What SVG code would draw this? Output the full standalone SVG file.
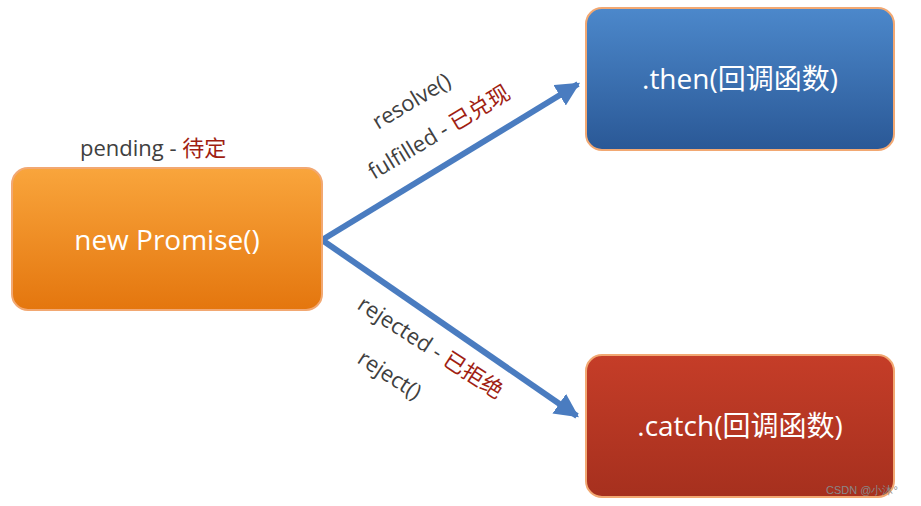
<svg xmlns="http://www.w3.org/2000/svg" width="921" height="506" viewBox="0 0 921 506">
<defs>
<linearGradient id="go" x1="0" y1="0" x2="0" y2="1"><stop offset="0" stop-color="#f9a53c"/><stop offset="1" stop-color="#e4760e"/></linearGradient>
<linearGradient id="gb" x1="0" y1="0" x2="0" y2="1"><stop offset="0" stop-color="#4c88cb"/><stop offset="1" stop-color="#2a5896"/></linearGradient>
<linearGradient id="gr" x1="0" y1="0" x2="0" y2="1"><stop offset="0" stop-color="#c53d28"/><stop offset="1" stop-color="#a6301e"/></linearGradient>
<marker id="ah" viewBox="0 0 10 10" refX="9" refY="5" markerWidth="4" markerHeight="4" orient="auto" markerUnits="strokeWidth"><path d="M0,0 L10,5 L0,10 z" fill="#4a7cc0"/></marker>
<style>
.box{stroke:#f2a872;stroke-width:2}
.t{font-family:"Open Sans","Noto Sans CJK SC",sans-serif;fill:#fff;font-size:28px;text-anchor:middle}
.l{font-family:"Open Sans","Noto Sans CJK SC",sans-serif;fill:#404040;font-size:22px}
.c{fill:#a01e12}
</style>
</defs>
<rect width="921" height="506" fill="#fff"/>
<g id="connectors" stroke="#4a7cc0" stroke-width="6" fill="none">
<path d="M322,240 L578,84" marker-end="url(#ah)"/>
<path d="M322,240 L577,416" marker-end="url(#ah)"/>
</g>
<g id="promise"><rect class="box" x="12" y="168" width="310" height="142" rx="16" fill="url(#go)"/><text class="t" x="167" y="250">new Promise()</text></g>
<g id="then"><rect class="box" x="586" y="8" width="308" height="142" rx="16" fill="url(#gb)"/><text class="t" x="740" y="89">.then(回调函数)</text></g>
<g id="catch"><rect class="box" x="586" y="355" width="308" height="142" rx="16" fill="url(#gr)"/><text class="t" x="740" y="436">.catch(回调函数)</text></g>
<text class="l" x="80" y="156">pending - <tspan class="c">待定</tspan></text>
<text class="l" x="0" y="0" font-size="24" transform="translate(378,130) rotate(-31)">resolve()</text>
<text class="l" x="0" y="0" font-size="21" transform="translate(374,180) rotate(-31)">fulfilled - <tspan class="c">已兑现</tspan></text>
<text class="l" x="0" y="0" font-size="21" transform="translate(356,308) rotate(33)">rejected - <tspan class="c">已拒绝</tspan></text>
<text class="l" x="0" y="0" font-size="24" transform="translate(356,362) rotate(33)">reject()</text>
<text x="826" y="494" font-family="Liberation Sans,sans-serif" font-size="11" fill="#888">CSDN @小沐°</text>
</svg>
